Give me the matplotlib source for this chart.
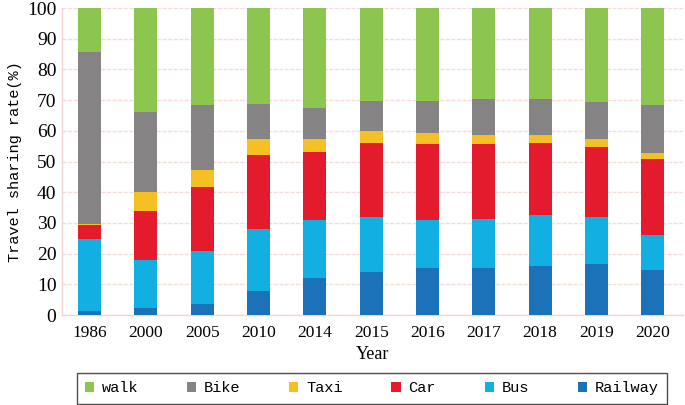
import numpy as np
import matplotlib.pyplot as plt

# Datos (%)
years = ["1986", "2000", "2005", "2010", "2014", "2015", "2016", "2017", "2018", "2019", "2020"]
railway = [1.4, 2.3, 3.6, 7.9, 12.1, 14.0, 15.3, 15.3, 16.0, 16.5, 14.6]
bus = [23.5, 15.8, 17.2, 20.1, 18.8, 17.9, 15.8, 15.9, 16.5, 15.4, 11.6]
car = [4.6, 15.8, 20.8, 24.3, 22.1, 24.1, 24.7, 24.6, 23.6, 22.8, 24.5]
taxi = [0.3, 6.1, 5.5, 4.9, 4.2, 4.1, 3.6, 2.8, 2.6, 2.6, 2.2]
bike = [55.8, 26.2, 21.2, 11.6, 10.2, 9.6, 10.3, 11.7, 11.6, 12.0, 15.5]
walk = [14.4, 33.8, 31.7, 31.2, 32.6, 30.3, 30.3, 29.7, 29.7, 30.7, 31.6]

series = [
    ("Railway", railway, "#1c72b8"),
    ("Bus", bus, "#12afe3"),
    ("Car", car, "#e31b2c"),
    ("Taxi", taxi, "#f5c024"),
    ("Bike", bike, "#858384"),
    ("walk", walk, "#8dc64f"),
]

fig = plt.figure(figsize=(6.85, 4.05), dpi=100)
ax = fig.add_axes([0.0905, 0.222, 0.906, 0.758])

x = np.arange(len(years))
largura = 0.41
base = np.zeros(len(years))
handles = {}
for nome, vals, cor in series:
    h = ax.bar(x, vals, largura, bottom=base, color=cor, label=nome, zorder=3)
    handles[nome] = h
    base = base + np.array(vals)

ax.set_xlim(-0.49, 10.53)
ax.set_ylim(0, 100)
ax.set_yticks(range(0, 101, 10))
ax.set_xticks(x)
ax.set_xticklabels(years, fontsize=12.5, family="Liberation Serif")
for t in ax.get_yticklabels():
    t.set_fontsize(14)
    t.set_family("Liberation Serif")
ax.tick_params(axis="y", length=0, pad=4)
ax.tick_params(axis="x", length=0, pad=7)

ax.yaxis.grid(True, color="#f5dcd9", linewidth=1, linestyle=(0, (3, 1)), zorder=0)
for s in ["top", "right"]:
    ax.spines[s].set_visible(False)
for s in ["left", "bottom"]:
    ax.spines[s].set_color("#f3d6d3")
    ax.spines[s].set_linewidth(1)

ax.set_ylabel("Travel sharing rate(%)", family="Liberation Mono", fontsize=11, labelpad=4)
ax.set_xlabel("Year", family="Liberation Serif", fontsize=13, labelpad=4)

ordem = ["walk", "Bike", "Taxi", "Car", "Bus", "Railway"]
leg = fig.legend([handles[n] for n in ordem], ordem, loc="lower center",
                 bbox_to_anchor=(0.5425, 0.003), ncol=6, frameon=True,
                 fancybox=False, borderaxespad=0, columnspacing=3.2,
                 handlelength=0.6, handleheight=0.6, handletextpad=0.5,
                 borderpad=0.55, prop={"family": "Liberation Mono", "size": 11})
leg.get_frame().set_edgecolor("#222222")
leg.get_frame().set_linewidth(1.0)

plt.savefig("out.png", dpi=100)
